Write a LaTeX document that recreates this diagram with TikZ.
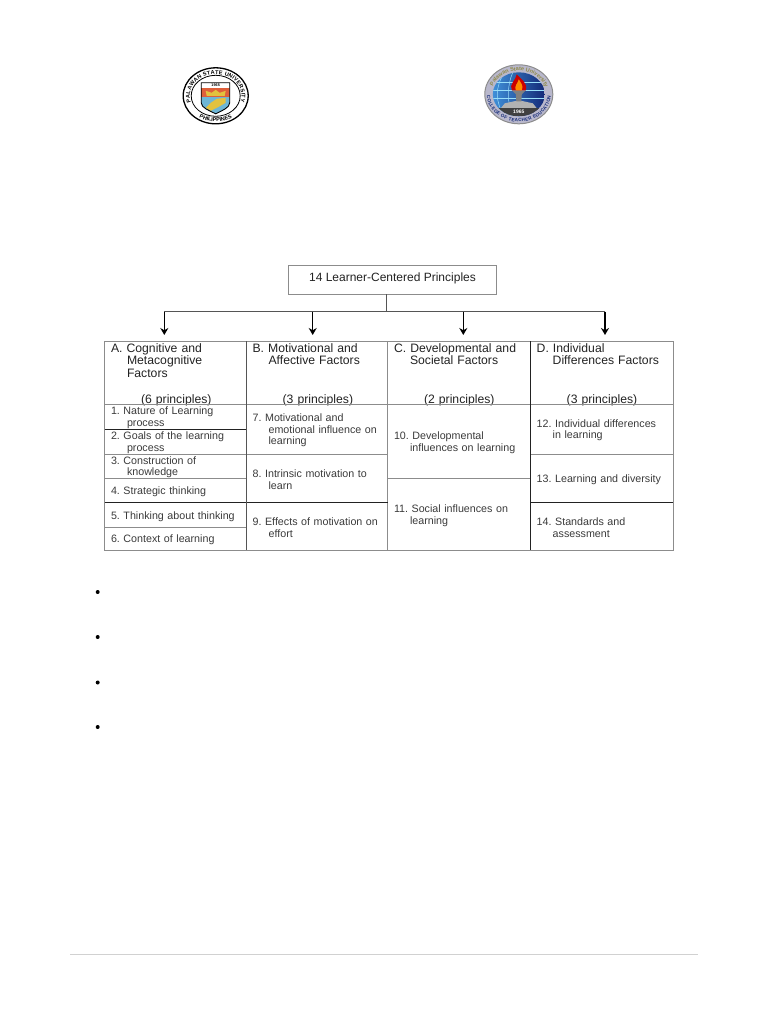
\documentclass[tikz,border=0pt]{standalone}
\usepackage{fontspec}
\setmainfont{Liberation Sans}
\usetikzlibrary{positioning,arrows.meta,decorations.text}
\definecolor{rulegray}{HTML}{8C8C8C}
\definecolor{inkgray}{HTML}{3A3A3A}
\definecolor{midrule}{HTML}{555555}
\definecolor{darkrule}{HTML}{222222}
\definecolor{shieldred}{HTML}{DE5F3A}
\definecolor{shieldblue}{HTML}{6DB6D6}
\definecolor{shieldgold}{HTML}{E2C23E}
\definecolor{ringlilac}{HTML}{B9B8CC}
\definecolor{globelight}{HTML}{3F8FD8}
\definecolor{globedark}{HTML}{142A78}
\newcommand{\hangline}{\hspace*{16pt}}
\newcommand{\countline}{\hspace*{30pt}}
\newcommand{\ringfont}{\fontsize{5.5}{6}\selectfont\bfseries}
\newcommand{\ringserif}{\fontsize{4.6}{6}\selectfont\bfseries}
\tikzset{
	basecell/.style={draw=rulegray, line width=0.9pt, align=left, outer sep=0pt, inner xsep=6.3pt, inner ysep=0pt, text=inkgray},
	cell/.style={basecell, text width=#1, font=\fontsize{10.7}{11.4}\selectfont\frenchspacing, execute at begin node={\rule{0pt}{10.3pt}}},
	head/.style={basecell, text width=#1, text height=11pt, text depth=52.3pt, font=\fontsize{12.2}{12.8}\selectfont\frenchspacing, text=darkrule},
	rootbox/.style={draw=rulegray, line width=0.9pt, outer sep=0pt, minimum width=208.4pt, minimum height=29.3pt, inner sep=0pt, text height=9pt, text depth=4.5pt, font=\fontsize{12}{14}\selectfont, text=darkrule},
	busline/.style={draw=midrule, line width=1.4pt},
	arrowline/.style={draw=black, line width=1.3pt, -{Stealth[length=7pt,width=8pt]}, shorten >=6pt},
	darkline/.style={draw=darkrule, line width=0.9pt},
	bullet/.style={circle, fill=black, inner sep=0pt, minimum size=4pt},
}
\begin{document}
\begin{tikzpicture}[x=1pt,y=-1pt]
	\useasboundingbox (0,0) rectangle (768,1024);

	\begin{scope}[shift={(215.7,95.8)}]
		\draw[fill=white, line width=1.3pt] (0,0) ellipse [x radius=32.5pt, y radius=28pt];
		\draw[line width=0.8pt] (0,0) ellipse [x radius=24.5pt, y radius=20.5pt];
		\path[clip] (-14.5,-13) -- (14,-13) -- (14,7) .. controls (14,12) and (6,15) .. (0,18) .. controls (-6,15) and (-14.5,12) .. (-14.5,7) -- cycle;
		\fill[white] (-15,-13) rectangle (15,-8);
		\fill[shieldred] (-15,-8) rectangle (15,1);
		\fill[shieldgold] (-9,0) -- (-10,-5) -- (-4,-3) -- (0,-6) -- (4,-3) -- (10,-5) -- (9,0) -- cycle;
		\fill[shieldblue] (-15,1) rectangle (15,19);
		\fill[shieldgold] (-10,12) -- (-5,7) -- (1,3) -- (10,2) -- (10,7) -- (3,11) -- (-5,15) -- cycle;
	\end{scope}
	\begin{scope}[shift={(215.7,95.8)}]
		\draw[line width=0.9pt] (-14.5,-13) -- (14,-13) -- (14,7) .. controls (14,12) and (6,15) .. (0,18) .. controls (-6,15) and (-14.5,12) .. (-14.5,7) -- cycle;
		\node[font=\fontsize{3.8}{4}\selectfont\bfseries, inner sep=0pt] (yearleft) at (0,-10.5) {1965};
		\path[decorate, decoration={text along path, text align=fit to path, text={|\ringfont|PALAWAN STATE UNIVERSITY}}]
			(197:25.8pt and 21.6pt) arc [start angle=197, end angle=-17, x radius=25.8pt, y radius=21.6pt];
		\path[decorate, decoration={text along path, text align=center, text={|\ringfont|PHILIPPINES}}]
			(222:30.5pt and 26pt) arc [start angle=222, end angle=318, x radius=30.5pt, y radius=26pt];
	\end{scope}

	\begin{scope}[shift={(518.8,94.3)}]
		\draw[fill=ringlilac, draw=black!45, line width=1pt] (0,0) ellipse [x radius=34pt, y radius=29.5pt];
		\begin{scope}
			\clip (0,0) ellipse [x radius=26pt, y radius=22pt];
			\shade[left color=globelight, right color=globedark] (-26,-22) rectangle (26,22);
			\draw[white!60!cyan, line width=0.5pt] (-26,-12) -- (26,-12) (-26,-4) -- (26,-4) (-26,4) -- (26,4);
			\draw[white!60!cyan, line width=0.5pt] (-14,-22) .. controls (-24,-8) and (-24,8) .. (-14,22) (-6,-22) .. controls (-12,-8) and (-12,8) .. (-6,22);
			\fill[black!30] (-14,9) -- (0,6) -- (14,9) -- (18,14) -- (-18,14) -- cycle;
			\fill[black!75] (-26,14) rectangle (26,22);
		\end{scope}
		\fill[black!50] (-7,-4) -- (7,-4) -- (3,0) -- (2.5,7) -- (-2.5,7) -- (-3,0) -- cycle;
		\fill[red!80!black] (-7,-4) .. controls (-10,-10) and (-3,-14) .. (-2,-20) .. controls (2,-15) and (9,-12) .. (7,-4) -- cycle;
		\fill[orange!90!yellow] (-3,-4) .. controls (-5,-8) and (-1,-11) .. (0,-15) .. controls (2,-11) and (5,-9) .. (3,-4) -- cycle;
		\node[font=\fontsize{5}{5}\selectfont\bfseries, text=white, inner sep=0pt] (yearright) at (0,17.2) {1965};
		\path[decorate, decoration={text along path, text align=fit to path, text color=yellow!50!black, text={|\ringfont|Palawan State University}}]
			(160:27.5pt and 23.5pt) arc [start angle=160, end angle=20, x radius=27.5pt, y radius=23.5pt];
		\path[decorate, decoration={text along path, text align=fit to path, text color=globedark, text={|\ringserif|COLLEGE OF TEACHER EDUCATION}}]
			(183:32pt and 27.5pt) arc [start angle=183, end angle=357, x radius=32pt, y radius=27.5pt];
	\end{scope}

	\node[rootbox] (root) at (392.5,279.7) {14 Learner-Centered Principles};

	\node[head=129pt, anchor=north west] (headA) at (104.7,341) {A. Cognitive and\\\hangline Metacognitive\\\hangline Factors\\\mbox{}\\\countline(6 principles)};
	\node[head=128.8pt, below right=0pt and 0pt of headA.north east] (headB) {B. Motivational and\\\hangline Affective Factors\\\mbox{}\\\mbox{}\\\countline(3 principles)};
	\node[head=130.1pt, below right=0pt and 0pt of headB.north east] (headC) {C. Developmental and\\\hangline Societal Factors\\\mbox{}\\\mbox{}\\\countline(2 principles)};
	\node[head=130.4pt, below right=0pt and 0pt of headC.north east] (headD) {D. Individual\\\hangline Differences Factors\\\mbox{}\\\mbox{}\\\countline(3 principles)};

	\node[cell=129pt, minimum height=24.7pt, below right=0pt and 0pt of headA.south west] (cell1) {1. Nature of Learning\\\hangline process};
	\node[cell=129pt, minimum height=25pt, below right=0pt and 0pt of cell1.south west] (cell2) {2. Goals of the learning\\\hangline process};
	\node[cell=129pt, minimum height=24.3pt, below right=0pt and 0pt of cell2.south west] (cell3) {3. Construction of\\\hangline knowledge};
	\node[cell=129pt, minimum height=24.4pt, below right=0pt and 0pt of cell3.south west] (cell4) {4. Strategic thinking};
	\node[cell=129pt, minimum height=24.6pt, below right=0pt and 0pt of cell4.south west] (cell5) {5. Thinking about thinking};
	\node[cell=129pt, minimum height=23pt, below right=0pt and 0pt of cell5.south west] (cell6) {6. Context of learning};

	\node[cell=128.8pt, minimum height=49.7pt, below right=0pt and 0pt of headB.south west] (cell7) {7. Motivational and\\\hangline emotional influence on\\\hangline learning};
	\node[cell=128.8pt, minimum height=48.7pt, below right=0pt and 0pt of cell7.south west] (cell8) {8. Intrinsic motivation to\\\hangline learn};
	\node[cell=128.8pt, minimum height=47.6pt, below right=0pt and 0pt of cell8.south west] (cell9) {9. Effects of motivation on\\\hangline effort};

	\node[cell=130.1pt, minimum height=74pt, below right=0pt and 0pt of headC.south west] (cell10) {10. Developmental\\\hangline influences on learning};
	\node[cell=130.1pt, minimum height=72pt, below right=0pt and 0pt of cell10.south west] (cell11) {11. Social influences on\\\hangline learning};

	\node[cell=130.4pt, minimum height=49.7pt, below right=0pt and 0pt of headD.south west] (cell12) {12. Individual differences\\\hangline in learning};
	\node[cell=130.4pt, minimum height=48.7pt, below right=0pt and 0pt of cell12.south west] (cell13) {13. Learning and diversity};
	\node[cell=130.4pt, minimum height=47.6pt, below right=0pt and 0pt of cell13.south west] (cell14) {14. Standards and\\\hangline assessment};

	\draw[darkline] (cell1.south west) -- (cell1.south east);
	\draw[darkline] (cell4.south west) -- (cell8.south east);
	\draw[darkline] (cell13.south west) -- (cell13.south east);
	\draw[darkline] (headD.north west) -- (cell14.south west);
	\draw[draw=midrule, line width=0.9pt] (headB.north west) -- (cell9.south west);

	\coordinate (bus) at (386.7,311.7);
	\coordinate (busA) at (164.3,311.7);
	\coordinate (busB) at (312.7,311.7);
	\coordinate (busC) at (463.3,311.7);
	\coordinate (busD) at (605,311.7);
	\draw[busline] (bus |- root.south) -- (bus);
	\draw[busline] (busA) -- (busD);
	\draw[arrowline] (busA) -- (busA |- headA.north);
	\draw[arrowline] (busB) -- (busB |- headB.north);
	\draw[arrowline] (busC) -- (busC |- headC.north);
	\draw[arrowline] (busD) -- (busD |- headD.north);

	\node[bullet] (dot1) at (97.7,592) {};
	\node[bullet] (dot2) at (97.7,637) {};
	\node[bullet] (dot3) at (97.7,682.5) {};
	\node[bullet] (dot4) at (97.7,727) {};

	\draw[draw=black!18, line width=1pt] (70,954) -- (698,954);
\end{tikzpicture}
\end{document}
